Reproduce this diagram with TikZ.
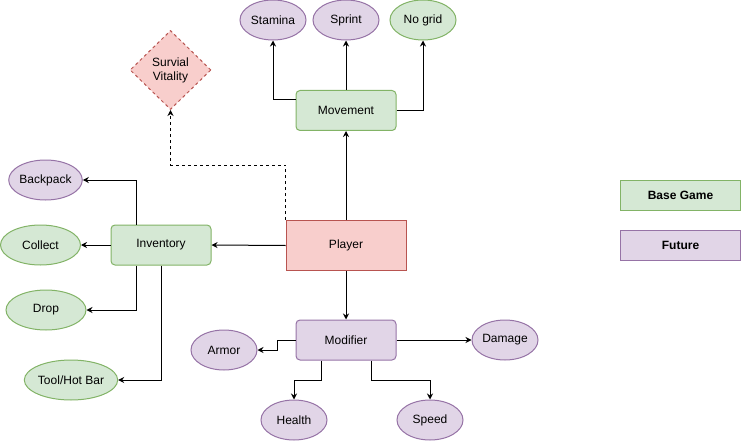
\documentclass[tikz,border=0pt]{standalone}
\usepackage{fontspec}
\setmainfont{Liberation Sans}
\usepackage{tikz}
\usetikzlibrary{shapes.geometric,arrows.meta}
\definecolor{gfill}{HTML}{D5E8D4}
\definecolor{gline}{HTML}{82B366}
\definecolor{pfill}{HTML}{E1D5E7}
\definecolor{pline}{HTML}{9673A6}
\definecolor{rfill}{HTML}{F8CECC}
\definecolor{rline}{HTML}{B85450}

\begin{document}
\begin{tikzpicture}[x=1pt, y=-1pt, font=\fontsize{12}{14}\selectfont,
			every node/.style={inner sep=0pt, line width=1pt},
			box/.style={draw, rounded corners=4pt, minimum width=100pt, minimum height=40pt},
			oval/.style={draw, ellipse, minimum width=#1, minimum height=40pt},
			oval/.default=66pt,
			base/.style={fill=gfill, draw=gline},
			future/.style={fill=pfill, draw=pline},
			arr/.style={-{Stealth[length=6pt, width=6pt]}, line width=1pt}]
			\useasboundingbox (0,0) rectangle (741,441);
			% nodes
			\node[draw=rline, fill=rfill, minimum width=120pt, minimum height=50pt] (player) at (346,245.5) {Player};
			\node[box, base] (move) at (346,110.5) {Movement};
			\node[box, base] (inv) at (161,245) {Inventory};
			\node[box, future] (mod) at (346,340) {Modifier};
			\node[diamond, draw=rline, fill=rfill, dash pattern=on 3pt off 3pt, minimum width=81pt, minimum height=79pt, align=center] (surv) at (170.5,70) {Survial\\Vitality};
			\node[oval, future] (stamina) at (273,20) {Stamina};
			\node[oval, future] (sprint) at (346,20) {Sprint};
			\node[oval, base] (nogrid) at (423,20) {No grid};
			\node[oval=71pt, future] (backpack) at (45.5,180) {Backpack};
			\node[oval=80pt, base] (collect) at (40.5,245) {Collect};
			\node[oval=80pt, base] (drop) at (46,310) {Drop};
			\node[oval=80pt, base] (tool) at (71,380) {Tool/Hot Bar};
			\node[oval, future] (armor) at (224,350) {Armor};
			\node[oval, future] (damage) at (505,340) {Damage};
			\node[oval, future] (health) at (294,420) {Health};
			\node[oval, future] (speed) at (430,420) {Speed};
			% legend
			\node[base, draw, minimum width=120pt, minimum height=30pt, font=\fontsize{12}{14}\selectfont\bfseries] (lgbase) at (680.5,195) {Base Game};
			\node[future, draw, minimum width=120pt, minimum height=30pt, font=\fontsize{12}{14}\selectfont\bfseries] (lgfut) at (680.5,245) {Future};
			% connectors
			\draw[arr] (player.north) -- (move.south);
			\draw[arr] ([yshift=10.5pt]move.west) -| (stamina.south);
			\draw[arr] (move.north) -- (sprint.south);
			\draw[arr] (move.east) -| (nogrid.south);
			\draw[arr, dashed] (player.north west) -- ++(0,-55) -| (surv.south);
			\draw[arr] (player.west) -- (inv.east);
			\draw[arr] ([xshift=-25pt]inv.north) |- (backpack.east);
			\draw[arr] (inv.west) -- (collect.east);
			\draw[arr] ([xshift=-25pt]inv.south) |- (drop.east);
			\draw[arr] (inv.south) |- (tool.east);
			\draw[arr] (player.south) -- (mod.north);
			\draw[arr] (mod.west) -- ++(-18,0) |- (armor.east);
			\draw[arr] (mod.east) -- (damage.west);
			\draw[arr] ([xshift=-25pt]mod.south) -- ++(0,20) -| (health.north);
			\draw[arr] ([xshift=25pt]mod.south) -- ++(0,20) -| (speed.north);
		\end{tikzpicture}
\end{document}
